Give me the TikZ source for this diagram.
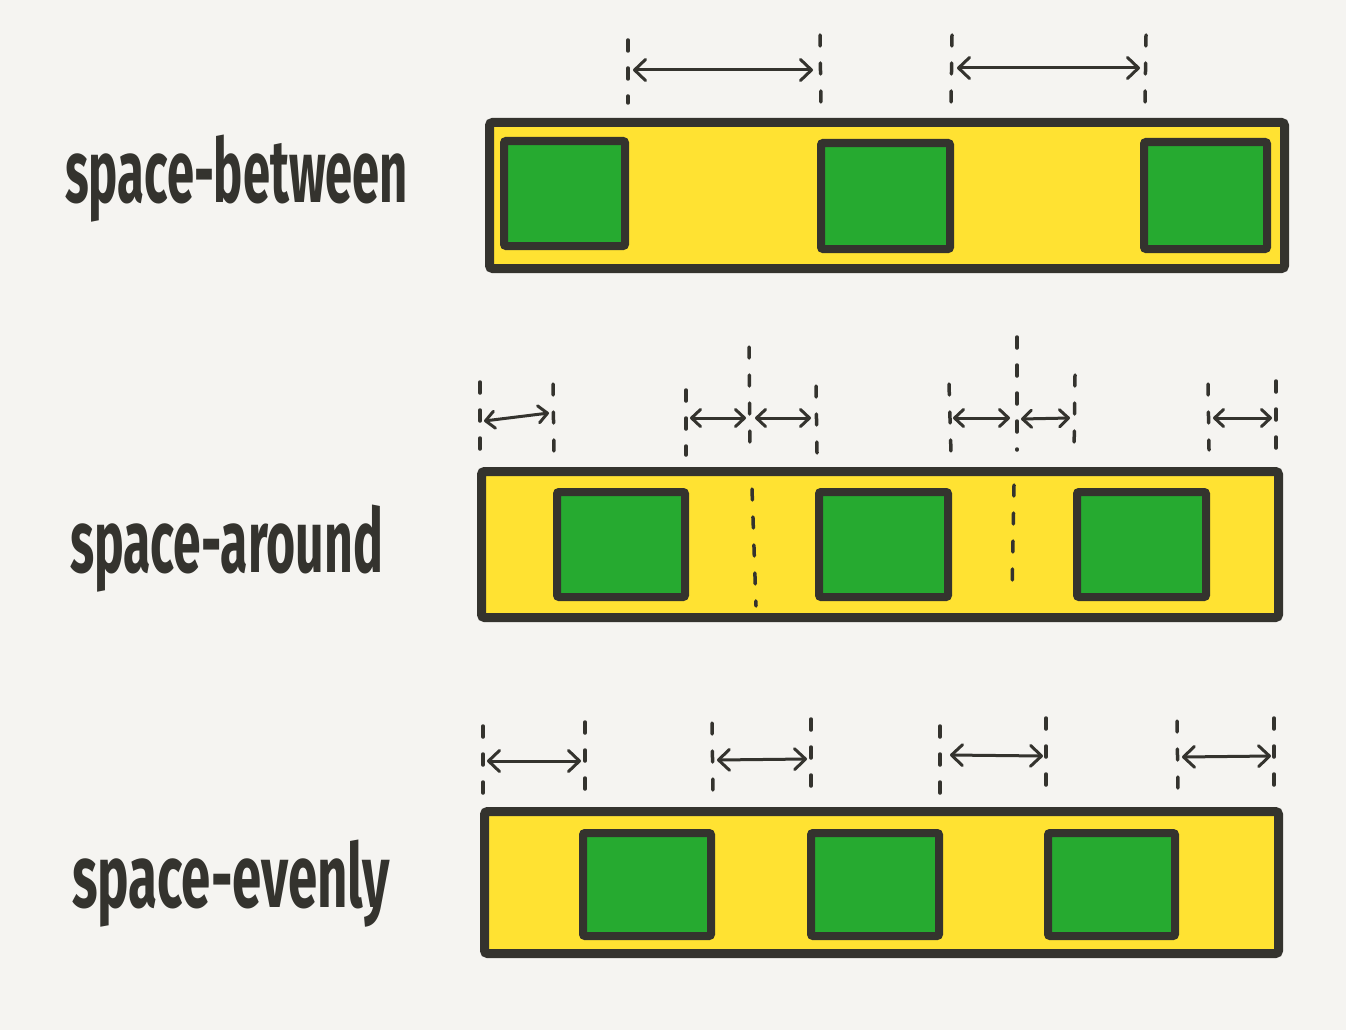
\documentclass[tikz,border=0pt]{standalone}
\usepackage{fontspec}
\usepackage{graphicx}
\usetikzlibrary{arrows.meta}
\newfontfamily\handfont{Fira Sans}
\definecolor{bgc}{RGB}{245,244,241}
\definecolor{ink}{RGB}{52,51,46}
\definecolor{yel}{RGB}{255,226,50}
\definecolor{grn}{RGB}{38,170,48}
\tikzset{
  cont/.style={draw=ink, fill=yel, line width=9pt, rounded corners=3pt, inner sep=0pt, outer sep=0pt},
  gbox/.style={draw=ink, fill=grn, line width=8pt, rounded corners=2pt, inner sep=0pt, outer sep=0pt},
  guide/.style={draw=ink, line width=3.5pt, line cap=round, dash pattern=on 11pt off 17pt},
  dimarrow/.style={draw=ink, line width=3pt, line cap=round, {Straight Barb[length=11pt,width=21pt,round]}-{Straight Barb[length=11pt,width=21pt,round]}},
  dimsmall/.style={dimarrow, {Straight Barb[length=9pt,width=17pt,round]}-{Straight Barb[length=9pt,width=17pt,round]}},
  lab/.style={anchor=base west, inner sep=0pt, text=ink, font=\handfont\bfseries\fontsize{89}{89}\selectfont}
}
\begin{document}
\begin{tikzpicture}[x=1pt,y=-1pt]
\fill[bgc] (0,0) rectangle (1346,1030);
\useasboundingbox (0,0) rectangle (1346,1030);

% ---------- labels ----------
\node[lab] (l1) at (65,202) {\resizebox{343pt}{\height}{space-between}};
\node[lab] (l2) at (70,572) {\resizebox{313pt}{\height}{space-around}};
\node[lab] (l3) at (72,907) {\resizebox{318pt}{\height}{space-evenly}};

% ---------- row 1: space-between ----------
\node[cont, minimum width=795pt, minimum height=146pt] (c1) at (887,195.5) {};
\node[gbox, minimum width=121pt, minimum height=105pt] (b11) at (564.5,193.5) {};
\node[gbox, minimum width=129pt, minimum height=106pt] (b12) at (885.5,196) {};
\node[gbox, minimum width=123pt, minimum height=107pt] (b13) at (1205.5,195.5) {};

\coordinate (g11t) at (628,40);  \coordinate (g11b) at (628,103);
\coordinate (g12t) at (820,35);  \coordinate (g12b) at (821,108);
\coordinate (g13t) at (952,35);  \coordinate (g13b) at (951,108);
\coordinate (g14t) at (1146,35); \coordinate (g14b) at (1145,106);
\path[guide] (g11t) -- (g11b);
\path[guide] (g12t) -- (g12b);
\path[guide] (g13t) -- (g13b);
\path[guide] (g14t) -- (g14b);
\coordinate (a11l) at (633,70);  \coordinate (a11r) at (813,70);
\coordinate (a12l) at (957,68);  \coordinate (a12r) at (1140,68);
\path[dimarrow] (a11l) -- (a11r);
\path[dimarrow] (a12l) -- (a12r);

% ---------- row 2: space-around ----------
\node[cont, minimum width=797pt, minimum height=146pt] (c2) at (880,544.5) {};
\node[gbox, minimum width=128pt, minimum height=105pt] (b21) at (621,544.5) {};
\node[gbox, minimum width=129pt, minimum height=105pt] (b22) at (883.5,544.5) {};
\node[gbox, minimum width=129pt, minimum height=105pt] (b23) at (1141.5,544.5) {};

\coordinate (m21t) at (752,489); \coordinate (m21b) at (756,606);
\coordinate (m22t) at (1014,485); \coordinate (m22b) at (1012,596);
\path[guide] (m21t) -- (m21b);
\path[guide] (m22t) -- (m22b);

\coordinate (g21t) at (480,382);  \coordinate (g21b) at (480,455);
\coordinate (g22t) at (553,384);  \coordinate (g22b) at (554,457);
\coordinate (g23t) at (686,390);  \coordinate (g23b) at (686,455);
\coordinate (g24t) at (749,347);  \coordinate (g24b) at (750,455);
\coordinate (g25t) at (816,386);  \coordinate (g25b) at (817,453);
\coordinate (g26t) at (949,384);  \coordinate (g26b) at (951,453);
\coordinate (g27t) at (1017,337); \coordinate (g27b) at (1017,450);
\coordinate (g28t) at (1075,375); \coordinate (g28b) at (1074,456);
\coordinate (g29t) at (1208,384); \coordinate (g29b) at (1209,450);
\coordinate (g2at) at (1276,381); \coordinate (g2ab) at (1276,450);
\foreach \n in {1,...,9,a} {\path[guide] (g2\n t) -- (g2\n b);}

\coordinate (a21l) at (484,421);  \coordinate (a21r) at (549,413);
\coordinate (a22l) at (690,418);  \coordinate (a22r) at (746,418);
\coordinate (a23l) at (755,418);  \coordinate (a23r) at (811,418);
\coordinate (a24l) at (953,418);  \coordinate (a24r) at (1010,418);
\coordinate (a25l) at (1021,419); \coordinate (a25r) at (1070,418);
\coordinate (a26l) at (1213,418); \coordinate (a26r) at (1272,418);
\foreach \n in {1,...,6} {\path[dimsmall] (a2\n l) -- (a2\n r);}

% ---------- row 3: space-evenly ----------
\node[cont, minimum width=794pt, minimum height=142pt] (c3) at (881.5,882.5) {};
\node[gbox, minimum width=128pt, minimum height=103pt] (b31) at (647,884.5) {};
\node[gbox, minimum width=128pt, minimum height=103pt] (b32) at (875,884.5) {};
\node[gbox, minimum width=127pt, minimum height=103pt] (b33) at (1111.5,884.5) {};

\coordinate (g31t) at (483,726);  \coordinate (g31b) at (483,795);
\coordinate (g32t) at (585,722);  \coordinate (g32b) at (585,798);
\coordinate (g33t) at (712,723);  \coordinate (g33b) at (713,793);
\coordinate (g34t) at (811,719);  \coordinate (g34b) at (811,793);
\coordinate (g35t) at (940,726);  \coordinate (g35b) at (940,796);
\coordinate (g36t) at (1046,718); \coordinate (g36b) at (1046,788);
\coordinate (g37t) at (1177,721); \coordinate (g37b) at (1178,791);
\coordinate (g38t) at (1274,718); \coordinate (g38b) at (1274,790);
\foreach \n in {1,...,8} {\path[guide] (g3\n t) -- (g3\n b);}

\coordinate (a31l) at (487,761);  \coordinate (a31r) at (581,761);
\coordinate (a32l) at (717,760);  \coordinate (a32r) at (807,759);
\coordinate (a33l) at (950,755);  \coordinate (a33r) at (1043,756);
\coordinate (a34l) at (1182,757); \coordinate (a34r) at (1271,756);
\foreach \n in {1,...,4} {\path[dimarrow] (a3\n l) -- (a3\n r);}
\end{tikzpicture}
\end{document}
